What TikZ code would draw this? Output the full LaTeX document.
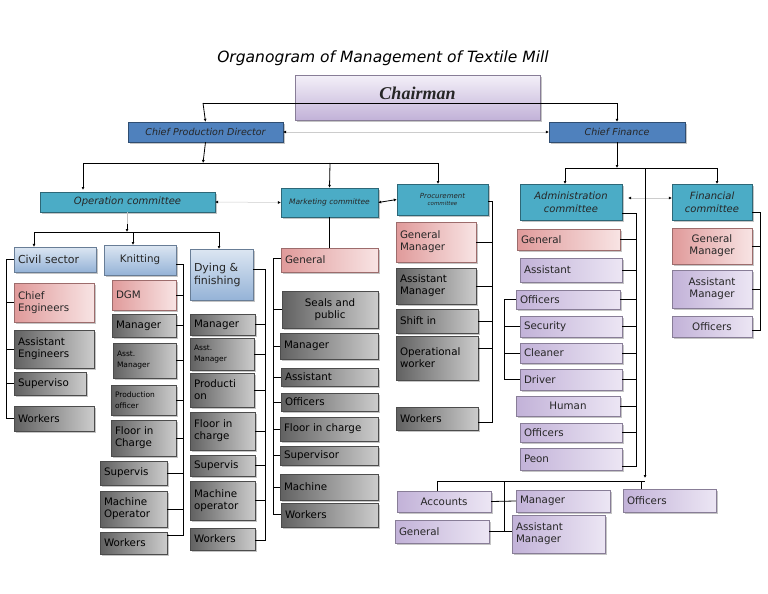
\documentclass[tikz,border=0pt]{standalone}
\usepackage{fontspec}
\setmainfont{DejaVu Sans}
\newfontfamily\chfont{Liberation Serif}
\usetikzlibrary{shadows,arrows.meta}
\definecolor{dbc}{HTML}{4F81BD}
\definecolor{tlc}{HTML}{4BACC6}
\definecolor{lb1}{HTML}{DCE6F2}
\definecolor{lb2}{HTML}{95B3D7}
\definecolor{pk1}{HTML}{E09A9A}
\definecolor{pk2}{HTML}{F8E4E4}
\definecolor{pu1}{HTML}{C2B2D8}
\definecolor{pu2}{HTML}{ECE6F4}
\begin{document}
\begin{tikzpicture}[x=1pt,y=-1pt,
  base/.style={draw=#1,line width=0.4pt,inner sep=1pt,font=\fontsize{10.3}{12}\selectfont,execute at begin node={\hyphenpenalty10000\exhyphenpenalty10000},drop shadow={shadow xshift=1.5pt,shadow yshift=-1.5pt,fill=black!45}},
  gr/.style={base=gray!60!black,left color=black!62,right color=black!20,text=black},
  pu/.style={base=pu1!70!black,left color=pu1,right color=pu2,text=black!85},
  pk/.style={base=pk1!70!black,left color=pk1,right color=pk2,text=black!85},
  lb/.style={base=lb2!70!black,top color=lb1,bottom color=lb2,text=black!85},
  tl/.style={base=tlc!60!black,fill=tlc,text=black!85,font=\fontsize{8}{9}\selectfont\itshape},
  db/.style={base=dbc!60!black,fill=dbc,text=black!85,font=\fontsize{9.5}{10}\selectfont\itshape},
  ln/.style={line width=0.8pt,black},
  ar/.style={ln,-{Latex[length=3pt,width=3pt]}},
  ga/.style={line width=0.5pt,gray!40,{Latex[length=3pt,width=3pt,black]}-{Latex[length=3pt,width=3pt,black]}}]
\newcommand\B[8][align=left]{%
  \pgfmathsetmacro\bw{#5-#3}\pgfmathsetmacro\bh{#6-#4}\pgfmathsetmacro\tw{#5-#3-8}%
  \node[#7,minimum width=\bw pt,minimum height=\bh pt,text width=\tw pt,#1] (#2) at ({(#3+#5)/2},{(#4+#6)/2}) {#8};}
\useasboundingbox (0,0) rectangle (768,594);
\node[font=\fontsize{15.5}{18}\selectfont\itshape] (title) at (383,58) {Organogram of Management of Textile Mill};
\B[align=center]{ch}{295}{75}{540}{120}{pu,top color=pu2!60!white,bottom color=pu1,font=\fontsize{18}{20}\selectfont\chfont\bfseries\itshape}{\raisebox{8pt}{Chairman}}
\B[align=center]{cpd}{128}{122}{283}{142}{db}{Chief Production Director}
\B[align=center]{cf}{549}{122}{685}{142}{db}{Chief Finance}
\B[align=center]{op}{40}{192}{215}{212}{tl,font=\fontsize{10}{10}\selectfont\itshape}{Operation committee}
\B[align=center]{mk}{281}{188}{378}{217}{tl,font=\fontsize{7.5}{10}\selectfont\itshape}{Marketing committee}
\B[align=center]{pr}{397}{184}{488}{215}{tl,font=\fontsize{7}{8}\selectfont\itshape}{Procurement\\[-1pt]{\fontsize{5.5}{6}\selectfont committee}}
\B[align=center]{ad}{520}{184}{622}{220}{tl,font=\fontsize{10}{13}\selectfont\itshape}{Administration committee}
\B[align=center]{fi}{672}{184}{752}{220}{tl,font=\fontsize{10}{13}\selectfont\itshape}{Financial committee}
% top connectors
\draw[ln] (203,103) -- (617,103);
\draw[ar] (203,103) -- (cpd.north);
\draw[ar] (617,103) -- (cf.north);
\draw[ga] (cpd.east) -- (cf.west);
\draw[ar] (cpd.south) -- (203,163);
\draw[ln] (83,163) -- (438,163);
\draw[ar] (83,163) -- (83,190);
\draw[ar] (330,163) -- (mk.north);
\draw[ar] (438,163) -- (438,184);
\draw[ga] (op.east) -- (mk.west);
\draw[ln,{Latex[length=3pt,width=3pt]}-{Latex[length=3pt,width=3pt]}] (mk.east) -- (pr.west);
\draw[ar] (cf.south) -- (617,168);
\draw[ln] (565,168) -- (717,168);
\draw[ar] (565,168) -- (565,184);
\draw[ar] (717,168) -- (717,184);
\draw[ga] (ad.east) ++(6,-4) coordinate (ae) -- (fi.west |- ae);
% operation
\B{civ}{14}{247}{96}{272}{lb,font=\fontsize{11}{12}\selectfont}{Civil sector}
\B[align=center]{kn}{104}{245}{176}{275}{lb}{Knitting\\[10pt]}
\B{dy}{190}{249}{253}{300}{lb,font=\fontsize{11}{13}\selectfont}{Dying \& finishing\\[8pt]}
\draw[line width=0.8pt,gray!50] (127,212) -- (127,226);
\draw[ln] (34,232) -- (219,232);
\draw[ar] (127,224) -- (127,232);
\draw[ar] (34,232) -- (civ.north -| 34,0);
\draw[ar] (133,232) -- (133,245);
\draw[ar] (219,232) -- (219,249);
\B{ce}{14}{283}{94}{322}{pk}{Chief Engineers}
\B{ae}{14}{330}{94}{368}{gr}{Assistant Engineers}
\B{sv}{14}{372}{86}{395}{gr}{Superviso}
\B{cw}{14}{406}{94}{431}{gr}{Workers}
\coordinate (cb) at (6,0);
\draw[ln] (civ.west) -- (cb |- civ.west) |- (cw.west);
\foreach \n in {ce,ae,sv} \draw[ln] (\n.west) -- (cb |- \n.west);
\B{dgm}{112}{280}{176}{310}{pk}{DGM\\[6pt]}
\B{km}{112}{314}{176}{337}{gr}{Manager}
\B{kam}{113}{343}{176}{378}{gr,font=\fontsize{7.5}{11}\selectfont}{Asst.\\Manager}
\B{kpo}{111}{385}{176}{415}{gr,font=\fontsize{7.5}{11}\selectfont}{Production officer}
\B{kf}{111}{420}{176}{456}{gr}{Floor in Charge}
\B{ks}{100}{461}{167}{485}{gr}{Supervis}
\B{kmo}{100}{491}{167}{527}{gr}{Machine Operator}
\B{kw}{100}{532}{167}{554}{gr}{Workers}
\coordinate (kb) at (183,0);
\draw[ln] (kn.east |- 0,264) -- (kb |- 0,264) |- (kw.east |- 0,535);
\foreach \n in {dgm,km,kam,kpo,kf,ks,kmo} \draw[ln] (\n.east) -- (kb |- \n.east);
\B{dm}{190}{314}{255}{335}{gr}{Manager}
\B{dam}{190}{338}{254}{370}{gr,font=\fontsize{7.5}{11}\selectfont}{Asst.\\Manager}
\B{dp}{190}{373}{254}{407}{gr}{Producti\\on}
\B{df}{190}{412}{255}{450}{gr}{Floor in charge}
\B{ds}{190}{455}{255}{476}{gr}{Supervis}
\B{dmo}{190}{481}{255}{520}{gr}{Machine operator}
\B{dw}{190}{528}{255}{550}{gr}{Workers}
\coordinate (db) at (265,0);
\draw[ln] (dy.east |- 0,269) -- (db |- 0,269) |- (dw.east |- 0,540);
\foreach \n in {dm,dam,dp,df,ds,dmo} \draw[ln] (\n.east) -- (db |- \n.east);
% marketing
\B{mg}{281}{248}{378}{272}{pk}{General\\[4pt]}
\draw[ln] (mk.south) -- (mg.north -| mk.south);
\B[align=center]{ms}{282}{291}{378}{328}{gr}{Seals and\\public}
\B{mm}{280}{333}{378}{359}{gr}{Manager\\[4pt]}
\B{ma}{281}{368}{378}{386}{gr}{Assistant}
\B{mo}{281}{393}{378}{411}{gr}{Officers}
\B{mf}{280}{417}{378}{441}{gr}{Floor in charge}
\B{msu}{280}{446}{378}{465}{gr}{Supervisor}
\B{mma}{280}{474}{378}{500}{gr}{Machine\\[3pt]}
\B{mw}{281}{503}{378}{527}{gr}{Workers}
\coordinate (mb) at (273,0);
\draw[ln] (mg.west |- 0,258) -- (mb |- 0,258) |- (mw.west |- 0,514);
\foreach \n in {ms,mm,ma,mo,mf,msu,mma} \draw[ln] (\n.west) -- (mb |- \n.west);
% procurement
\B{pg}{396}{222}{476}{262}{pk}{General Manager}
\B{pa}{396}{268}{476}{304}{gr}{Assistant Manager}
\B{ps}{396}{309}{478}{333}{gr}{Shift in\\[3pt]}
\B{po}{396}{336}{478}{380}{gr}{Operational worker\\[6pt]}
\B{pw}{396}{407}{478}{430}{gr}{Workers}
\coordinate (pb) at (492,0);
\draw[ln] (pr.east |- 0,201) -- (pb |- 0,201) |- (pw.east |- 0,422);
\foreach \n in {pg,pa,ps} \draw[ln] (\n.east) -- (pb |- \n.east);
\draw[ln] (po.east |- 0,348) -- (pb |- 0,348);
% administration
\B{ag}{517}{229}{620}{250}{pk}{General}
\B{aa}{520}{258}{622}{282}{pu}{Assistant}
\B{ao}{516}{290}{620}{309}{pu}{Officers}
\B{as}{520}{316}{622}{337}{pu}{Security}
\B{ac}{520}{343}{622}{363}{pu}{Cleaner}
\B{adr}{520}{369}{622}{390}{pu}{Driver}
\B[align=center]{ah}{516}{396}{620}{416}{pu}{Human}
\B{ao2}{520}{423}{622}{442}{pu}{Officers}
\B{ap}{520}{448}{622}{470}{pu}{Peon}
\coordinate (ab) at (636,0);
\draw[ln] (ad.east |- 0,213) -- (ab |- 0,213) |- (ap.east |- 0,466);
\foreach \n in {ag,aa,ao,as,ac,adr,ah,ao2} \draw[ln] (\n.east) -- (ab |- \n.east);
\coordinate (sb) at (504,0);
\draw[ln] (ao.west) -- (sb |- ao.west) |- (adr.west);
\foreach \n in {as,ac} \draw[ln] (\n.west) -- (sb |- \n.west);
% financial
\B[align=center]{fg}{672}{228}{752}{264}{pk}{General Manager}
\B[align=center]{fa}{672}{270}{752}{308}{pu}{Assistant Manager\\[3pt]}
\B[align=center]{fo}{672}{316}{752}{337}{pu}{Officers}
\coordinate (fb) at (760,0);
\draw[ln] (fi.east |- 0,212) -- (fb |- 0,212) |- (fo.east |- 0,330);
\foreach \n in {fg,fa} \draw[ln] (\n.east) -- (fb |- \n.east);
% accounts
\B[align=center]{acc}{397}{491}{491}{512}{pu}{Accounts}
\B{am}{516}{490}{610}{512}{pu}{Manager}
\B{agn}{395}{520}{489}{543}{pu}{General}
\B{aam}{512}{515}{605}{553}{pu}{Assistant Manager}
\B{aof}{623}{489}{716}{512}{pu}{Officers\\[4pt]}
\draw[ar] (645,168) -- (645,478);
\draw[ln] (437,481) -- (645,481);
\draw[ln] (437,481) -- (acc.north -| 437,0);
\draw[ln] (641,481) -- (aof.north -| 641,0);
\coordinate (xb) at (504,0);
\draw[ln] (xb |- 0,481) -- (xb |- agn.east);
\draw[ln] (acc.east) -- (am.west);
\draw[ln] (agn.east) -- (aam.west |- agn.east);
\end{tikzpicture}
\end{document}
